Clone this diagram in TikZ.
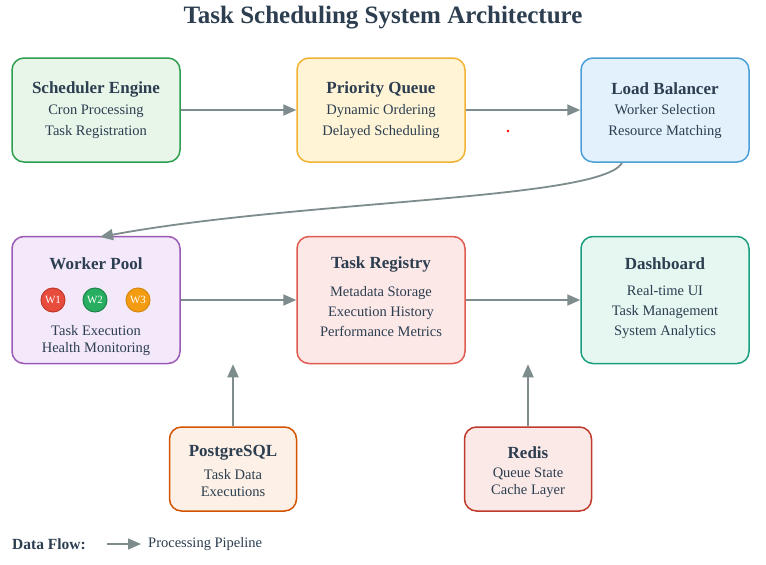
\documentclass[tikz,border=0pt]{standalone}
\usepackage{fontspec}
\setmainfont{Liberation Serif}
\usetikzlibrary{arrows.meta}
\definecolor{arr}{HTML}{7F8C8D}
\definecolor{txt}{HTML}{2C3E50}
\tikzset{
 flow/.style={draw=arr, line width=1.8pt, -{Triangle[length=13pt,width=11pt]}},
 ttl/.style={font=\bfseries\fontsize{17}{20}\selectfont, text=txt},
 sub/.style={font=\fontsize{14.5}{17}\selectfont, text=txt, align=center},
 wk/.style={circle, minimum size=24pt, inner sep=0pt, text=white, font=\fontsize{11}{12}\selectfont, line width=1pt}
}
\begin{document}
\begin{tikzpicture}[x=1pt,y=-1pt]
\useasboundingbox (0,0) rectangle (766,565);
\fill[white] (0,0) rectangle (766,565);
\node[font=\bfseries\fontsize{25}{28}\selectfont, text=txt] (title) at (383,18) {Task Scheduling System Architecture};
% top row
\node[draw={rgb,255:red,46;green,158;blue,79}, fill={rgb,255:red,232;green,245;blue,233}, line width=1.5pt, rounded corners=12pt, minimum width=168pt, minimum height=104pt] (se) at (96,110) {};
\node[draw={rgb,255:red,242;green,178;blue,51}, fill={rgb,255:red,255;green,244;blue,214}, line width=1.5pt, rounded corners=12pt, minimum width=168pt, minimum height=104pt] (pq) at (381,110) {};
\node[draw={rgb,255:red,74;green,159;blue,216}, fill={rgb,255:red,227;green,241;blue,252}, line width=1.5pt, rounded corners=12pt, minimum width=168pt, minimum height=104pt] (lb) at (665,110) {};
% middle row
\node[draw={rgb,255:red,155;green,89;blue,182}, fill={rgb,255:red,243;green,233;blue,251}, line width=1.5pt, rounded corners=12pt, minimum width=168pt, minimum height=127pt] (wp) at (96,300) {};
\node[draw={rgb,255:red,224;green,90;blue,79}, fill={rgb,255:red,253;green,232;blue,232}, line width=1.5pt, rounded corners=12pt, minimum width=168pt, minimum height=127pt] (tr) at (381,300) {};
\node[draw={rgb,255:red,26;green,158;blue,128}, fill={rgb,255:red,230;green,247;blue,242}, line width=1.5pt, rounded corners=12pt, minimum width=168pt, minimum height=127pt] (db) at (665,300) {};
% bottom
\node[draw={rgb,255:red,211;green,84;blue,0}, fill={rgb,255:red,253;green,240;blue,230}, line width=1.5pt, rounded corners=12pt, minimum width=127pt, minimum height=84pt] (pg) at (233,469) {};
\node[draw={rgb,255:red,192;green,57;blue,43}, fill={rgb,255:red,251;green,233;blue,231}, line width=1.5pt, rounded corners=12pt, minimum width=127pt, minimum height=84pt] (rd) at (528,469) {};
% texts
\node[ttl] (t1) at (96,89) {Scheduler Engine};
\node[sub] (s1) at (96,122) {Cron Processing\\[4pt]Task Registration};
\node[ttl] (t2) at (381,89) {Priority Queue};
\node[sub] (s2) at (381,122) {Dynamic Ordering\\[4pt]Delayed Scheduling};
\node[ttl] (t3) at (665,89) {Load Balancer};
\node[sub] (s3) at (665,122) {Worker Selection\\[4pt]Resource Matching};
\node[ttl] (t4) at (96,264) {Worker Pool};
\node[wk, fill={rgb,255:red,231;green,76;blue,60}, draw={rgb,255:red,192;green,57;blue,43}] (w1) at (53,300) {W1};
\node[wk, fill={rgb,255:red,39;green,174;blue,96}, draw={rgb,255:red,30;green,132;blue,73}] (w2) at (95,300) {W2};
\node[wk, fill={rgb,255:red,243;green,156;blue,18}, draw={rgb,255:red,214;green,137;blue,16}] (w3) at (138,300) {W3};
\node[sub, align=center] (s4) at (96,341) {Task Execution\\Health Monitoring};
\node[ttl] (t5) at (381,264) {Task Registry};
\node[sub] (s5) at (381,312) {Metadata Storage\\[3pt]Execution History\\[3pt]Performance Metrics};
\node[ttl] (t6) at (665,264) {Dashboard};
\node[sub] (s6) at (665,312) {Real-time UI\\[3pt]Task Management\\[3pt]System Analytics};
\node[ttl] (t7) at (233,453) {PostgreSQL};
\node[sub] (s7) at (233,483) {Task Data\\Executions};
\node[ttl] (t8) at (528,453) {Redis};
\node[sub] (s8) at (528,483) {Queue State\\Cache Layer};
% arrows
\draw[flow] (se.east) -- (pq.west);
\draw[flow] (pq.east) -- (lb.west);
\draw[flow] (wp.east) -- (tr.west);
\draw[flow] (tr.east) -- (db.west);
\draw[flow] (pg.north) -- ([yshift=62pt]pg.north);
\draw[flow] (rd.north) -- ([yshift=62pt]rd.north);
\coordinate (c1) at (622,163);
\coordinate (c2) at (100,237);
\draw[flow] (c1) .. controls (600,200) and (300,200) .. (c2);
\fill[red] (508,131) circle (1.3pt);
% legend
\node[font=\bfseries\fontsize{15.5}{18}\selectfont, text=txt, anchor=west, inner sep=0pt] (lg) at (12,544) {Data Flow:};
\coordinate (la) at (107,544);
\coordinate (lb2) at (141,544);
\draw[flow, line width=1.5pt] (la) -- (lb2);
\node[font=\fontsize{14.5}{17}\selectfont, text=txt, anchor=west, inner sep=0pt] (lt) at (148,544) {Processing Pipeline};
\end{tikzpicture}
\end{document}
